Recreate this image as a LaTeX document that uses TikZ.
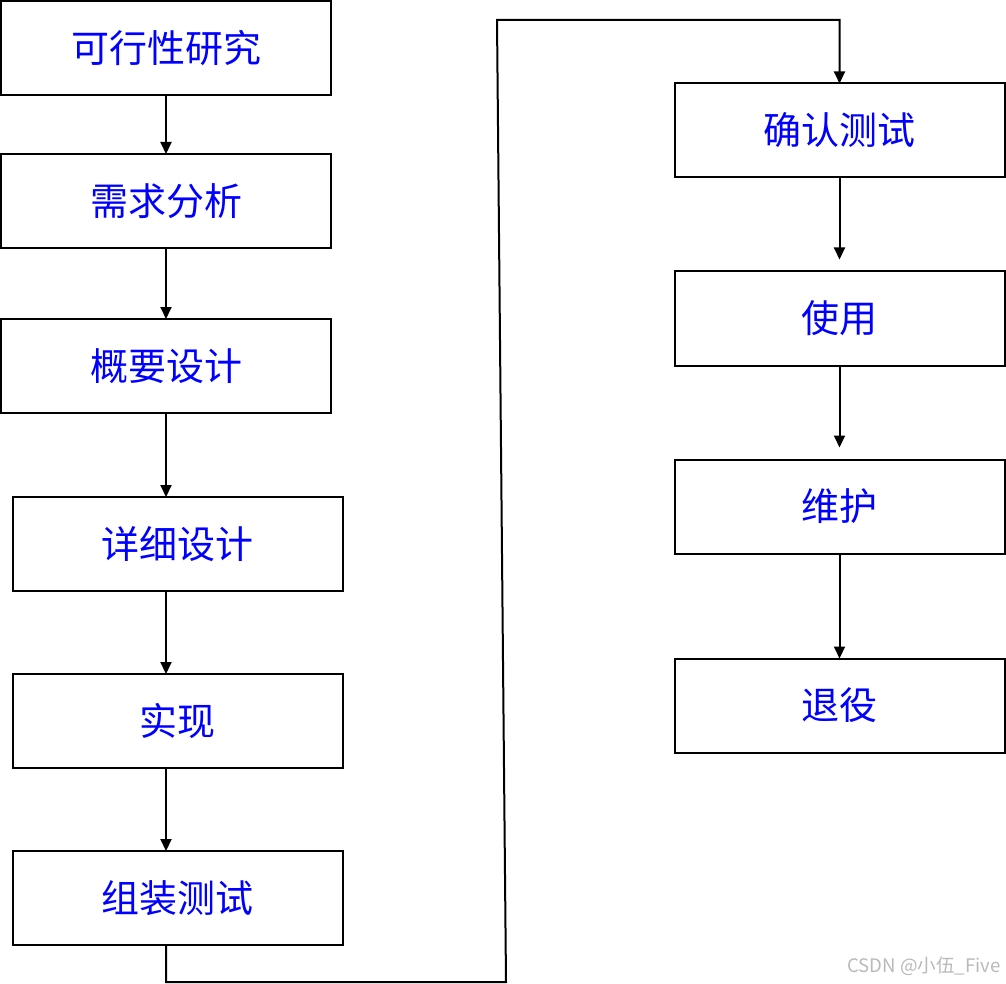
\documentclass[tikz,border=0pt]{standalone}
\usepackage{fontspec}
\newfontfamily\cjk{Noto Sans CJK SC}
\usetikzlibrary{arrows.meta,positioning}

\tikzset{
  phase/.style={draw, line width=1pt, minimum width=165pt, minimum height=47pt,
    inner sep=0pt, outer sep=0pt, text=blue, font=\cjk\fontsize{19}{21}\selectfont},
  flow/.style={line width=1pt, -{Triangle[length=6pt,width=5.5pt]}}
}

\begin{document}
\begin{tikzpicture}[x=0.5pt, y=-0.5pt]
    \useasboundingbox (0,0) rectangle (1006,984);
    % left column
    \node (study) [phase] at (166,48) {可行性研究};
    \node (analysis) [phase, below=29.5pt of study] {需求分析};
    \node (design) [phase, below=35.5pt of analysis] {概要设计};
    \node (detail) [phase, below=42pt of design, xshift=5.75pt] {详细设计};
    \node (implement) [phase, below=41.5pt of detail] {实现};
    \node (assembly) [phase, below=41.5pt of implement] {组装测试};
    % right column
    \node (confirm) [phase] at (839.5,130.5) {确认测试};
    \node (use) [phase, below=47pt of confirm] {使用};
    \node (maintain) [phase, below=47pt of use] {维护};
    \node (retire) [phase, below=52.5pt of maintain] {退役};
    \draw[flow] (study) -- (analysis);
    \draw[flow] (analysis) -- (design);
    \draw[flow] (design) -- (design |- detail.north);
    \draw[flow] (detail.south -| study.south) -- (implement.north -| study.south);
    \draw[flow] (implement.south -| study.south) -- (assembly.north -| study.south);
    % loop to the right column
    \coordinate (c1) at (166,982);
    \coordinate (c2) at (506,982);
    \coordinate (c3) at (497,20);
    \draw[flow] (assembly.south -| study.south) -- (c1) -- (c2) -- (c3) -| (confirm.north);
    \draw[flow, shorten >=6pt] (confirm) -- (use);
    \draw[flow, shorten >=6pt] (use) -- (maintain);
    \draw[flow] (maintain) -- (retire);
    \node (mark) [text=gray!55, font=\cjk\fontsize{9.3}{11}\selectfont] at (924,966) {CSDN @小伍\_Five};
\end{tikzpicture}
\end{document}
